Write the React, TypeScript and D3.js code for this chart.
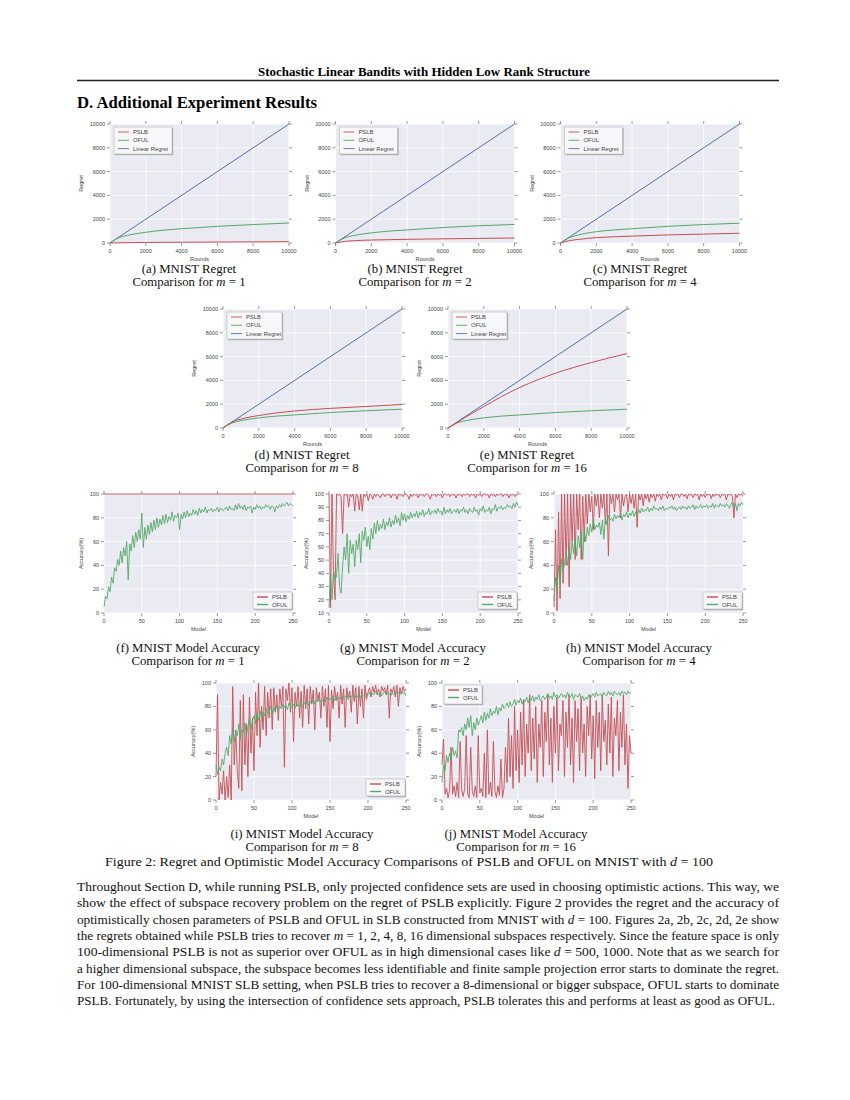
import React from "react";
import * as d3 from "d3";

// ---------- Regret data (rounds vs regret) ----------
const regretRounds = [0, 500, 1000, 2000, 3000, 4000, 6000, 8000, 10000];
const linearRounds = [0, 10000];
const linearRegret = [0, 10000];
const pslbRegretA = [0, 20, 30, 45, 55, 65, 80, 95, 110];
const ofulRegretA = [0, 450, 650, 900, 1080, 1200, 1400, 1550, 1680];
const pslbRegretB = [0, 130, 190, 250, 280, 310, 350, 385, 420];
const ofulRegretB = [0, 420, 620, 850, 1000, 1100, 1300, 1450, 1560];
const pslbRegretC = [0, 200, 300, 450, 520, 580, 680, 750, 820];
const ofulRegretC = [0, 450, 680, 950, 1100, 1200, 1400, 1550, 1660];
const pslbRegretD = [0, 500, 750, 1050, 1270, 1430, 1650, 1810, 1980];
const ofulRegretD = [0, 420, 620, 850, 1000, 1100, 1300, 1450, 1580];
const pslbRegretE = [0, 460, 920, 1800, 2650, 3400, 4600, 5500, 6250];
const ofulRegretE = [0, 420, 620, 850, 1000, 1100, 1300, 1450, 1580];

const regretXTicks = [0, 2000, 4000, 6000, 8000, 10000];
const regretYTicks = [0, 2000, 4000, 6000, 8000, 10000];

// ---------- Accuracy data (model index 0..250 step 2) ----------
const modelIdx = d3.range(0, 251, 2);
const pslbAccFModels = [0, 250];
const pslbAccF = [100, 100];
const ofulAccF = [5, 14, 12, 22, 18, 30, 25, 38, 35, 45, 40,
  52, 42, 55, 48, 60, 28, 58, 52, 65, 55,
  68, 60, 70, 62, 84, 55, 72, 62, 74, 66,
  76, 68, 78, 70, 80, 72, 79, 74, 82, 75,
  83, 76, 81, 78, 85, 77, 82, 80, 84, 70,
  83, 79, 85, 80, 86, 81, 84, 82, 87, 83,
  86, 82, 88, 84, 87, 85, 89, 84, 87, 86,
  88, 85, 87, 86, 89, 85, 88, 87, 86, 88,
  89, 86, 90, 87, 88, 86, 91, 87, 92, 88,
  90, 87, 91, 86, 89, 88, 90, 84, 89, 87,
  91, 88, 90, 87, 89, 88, 91, 89, 90, 87,
  90, 89, 85, 90, 88, 91, 89, 92, 90, 91,
  93, 90, 92, 91, 90];
const pslbAccG = [100, 14, 100, 40, 20, 100, 99, 100, 98, 70, 100,
  99, 100, 90, 100, 98, 100, 87, 100, 99, 88,
  100, 87, 100, 98, 100, 95, 100, 99, 96, 100,
  98, 100, 99, 97, 100, 100, 98, 100, 99, 100,
  97, 100, 99, 100, 96, 100, 99, 100, 98, 100,
  100, 99, 96, 100, 98, 100, 99, 100, 97, 100,
  99, 100, 98, 100, 100, 99, 96, 100, 99, 100,
  98, 100, 99, 100, 97, 100, 100, 99, 100, 98,
  100, 99, 100, 97, 100, 99, 100, 98, 100, 99,
  100, 100, 98, 100, 99, 100, 97, 100, 99, 100,
  98, 100, 100, 99, 100, 97, 100, 99, 100, 98,
  100, 99, 100, 100, 98, 100, 99, 100, 97, 100,
  99, 100, 98, 100, 99];
const ofulAccG = [14, 40, 20, 42, 35, 38, 55, 30, 25, 45, 60,
  50, 70, 40, 65, 55, 62, 45, 65, 58, 70,
  48, 72, 65, 75, 60, 68, 58, 74, 66, 78,
  70, 80, 72, 77, 74, 81, 73, 79, 76, 82,
  75, 80, 77, 84, 78, 82, 76, 86, 80, 85,
  79, 84, 81, 86, 82, 85, 83, 87, 82, 86,
  84, 88, 83, 86, 85, 89, 84, 87, 86, 88,
  85, 89, 86, 87, 84, 90, 85, 88, 86, 89,
  85, 87, 88, 86, 89, 85, 88, 87, 90, 86,
  88, 85, 89, 87, 86, 90, 87, 88, 84, 89,
  87, 91, 86, 88, 87, 90, 85, 89, 88, 92,
  87, 90, 89, 91, 88, 90, 89, 92, 90, 91,
  89, 93, 90, 94, 91];
const pslbAccH = [5, 70, 2, 85, 12, 100, 25, 100, 40, 100, 22,
  100, 60, 100, 45, 100, 70, 100, 45, 98, 60,
  100, 75, 100, 85, 98, 70, 100, 90, 100, 80,
  100, 88, 100, 75, 100, 48, 100, 92, 100, 85,
  100, 95, 100, 80, 100, 90, 98, 100, 85, 100,
  92, 100, 88, 100, 72, 100, 95, 100, 90, 100,
  96, 100, 93, 100, 97, 100, 94, 100, 98, 100,
  95, 100, 99, 100, 96, 100, 98, 100, 95, 100,
  99, 100, 97, 100, 100, 98, 100, 96, 100, 99,
  100, 97, 100, 99, 100, 95, 100, 98, 100, 97,
  100, 99, 100, 96, 100, 98, 100, 99, 100, 97,
  100, 99, 100, 95, 100, 99, 100, 98, 80, 100,
  97, 100, 99, 100, 98];
const ofulAccH = [10, 30, 20, 40, 25, 45, 35, 42, 50, 40, 55,
  45, 60, 50, 62, 48, 65, 55, 68, 45, 70,
  60, 72, 65, 75, 68, 78, 70, 74, 72, 76,
  66, 78, 62, 80, 74, 82, 78, 80, 77, 83,
  79, 82, 80, 84, 78, 83, 81, 85, 80, 84,
  82, 86, 81, 85, 83, 87, 84, 88, 85, 87,
  86, 89, 85, 88, 86, 90, 87, 88, 86, 89,
  87, 90, 86, 88, 87, 89, 88, 90, 87, 89,
  86, 88, 89, 87, 90, 88, 89, 87, 90, 88,
  89, 91, 87, 90, 88, 89, 91, 88, 90, 89,
  91, 88, 90, 89, 92, 88, 91, 90, 89, 92,
  90, 91, 89, 92, 90, 88, 91, 93, 89, 92,
  86, 92, 90, 93, 91];
const pslbAccI = [20, 90, 0, 15, 5, 25, 0, 20, 2, 30, 0,
  97, 30, 60, 25, 10, 85, 8, 90, 30, 65,
  20, 88, 40, 70, 25, 92, 55, 100, 45, 80,
  60, 97, 55, 92, 70, 95, 60, 96, 75, 90,
  68, 95, 80, 97, 28, 95, 85, 100, 75, 96,
  50, 92, 80, 97, 70, 93, 62, 98, 78, 95,
  65, 97, 82, 94, 60, 96, 85, 92, 70, 97,
  80, 95, 62, 98, 50, 94, 78, 97, 85, 92,
  70, 98, 82, 95, 62, 96, 88, 93, 75, 98,
  84, 96, 65, 97, 80, 95, 70, 98, 86, 92,
  96, 88, 97, 92, 98, 90, 95, 88, 97, 93,
  96, 90, 98, 70, 95, 92, 97, 88, 98, 80,
  96, 91, 97, 93, 95];
const ofulAccI = [30, 22, 28, 25, 35, 30, 40, 45, 38, 55, 48,
  62, 50, 58, 55, 65, 52, 60, 58, 66, 55,
  63, 70, 60, 68, 72, 65, 74, 68, 76, 70,
  75, 72, 78, 74, 76, 80, 73, 79, 76, 81,
  77, 80, 78, 82, 79, 81, 77, 83, 80, 79,
  82, 78, 83, 80, 81, 84, 79, 83, 82, 85,
  81, 84, 83, 86, 82, 85, 84, 87, 83, 85,
  86, 84, 88, 85, 87, 86, 89, 85, 87, 86,
  88, 86, 89, 87, 88, 90, 86, 89, 88, 90,
  87, 89, 88, 91, 87, 90, 89, 88, 91, 90,
  92, 89, 91, 90, 93, 91, 90, 92, 89, 91,
  93, 90, 92, 91, 89, 92, 90, 93, 91, 92,
  90, 93, 91, 92, 89];
const pslbAccJ = [30, 52, 5, 10, 2, 8, 45, 5, 12, 3, 15,
  2, 50, 8, 3, 10, 55, 5, 2, 45, 8,
  3, 12, 2, 55, 6, 10, 3, 40, 2, 60,
  5, 15, 3, 50, 8, 2, 12, 4, 35, 2,
  10, 45, 15, 70, 20, 55, 10, 80, 25, 60,
  15, 75, 30, 85, 20, 65, 40, 90, 25, 70,
  35, 80, 15, 65, 45, 85, 20, 75, 50, 90,
  30, 70, 15, 80, 40, 88, 25, 65, 55, 85,
  20, 75, 45, 90, 30, 70, 15, 85, 50, 78,
  25, 88, 40, 65, 20, 80, 55, 90, 35, 72,
  18, 85, 45, 75, 25, 90, 50, 68, 30, 82,
  40, 88, 20, 70, 55, 85, 25, 75, 45, 90,
  30, 65, 10, 55, 40];
const ofulAccJ = [15, 30, 25, 38, 32, 40, 35, 45, 38, 42, 36,
  60, 58, 62, 55, 65, 60, 70, 62, 72, 55,
  66, 60, 70, 64, 68, 72, 66, 75, 68, 74,
  70, 78, 72, 76, 74, 80, 73, 79, 76, 82,
  78, 80, 83, 79, 84, 80, 82, 86, 81, 85,
  83, 87, 82, 86, 84, 88, 83, 87, 85, 89,
  84, 88, 86, 90, 85, 87, 89, 86, 88, 91,
  87, 89, 86, 92, 88, 90, 87, 89, 91, 88,
  90, 87, 92, 89, 88, 91, 86, 90, 89, 88,
  91, 87, 89, 85, 88, 86, 90, 87, 89, 91,
  88, 92, 89, 90, 91, 88, 92, 90, 89, 93,
  90, 92, 89, 93, 91, 90, 92, 89, 93, 91,
  92, 90, 93, 91, 92];

const accXTicks = [0, 50, 100, 150, 200, 250];
const accYTicks = [0, 20, 40, 60, 80, 100];
const accYTicksG = [10, 20, 30, 40, 50, 60, 70, 80, 90, 100];

const RED = "#C44E52";
const GREEN = "#55A868";
const BLUE = "#4C72B0";
const SANS = "'Liberation Sans', Arial, sans-serif";
const SERIF = "'Liberation Serif', 'Times New Roman', serif";

type Series = { xs: number[]; ys: number[]; color: string; label: string };

function Panel(props: {
  left: number; top: number; w: number; h: number;
  xMax: number; yMin: number; yMax: number;
  xTicks: number[]; yTicks: number[];
  xLabel: string; yLabel: string; yLabelOff: number;
  series: Series[]; legendItems: Series[];
  legend: { x: number; y: number; w: number; h: number };
  smooth: boolean; lw: number; legendLw: number; rowGap: number;
}) {
  const { left, top, w, h } = props;
  const x = d3.scaleLinear().domain([0, props.xMax]).range([left, left + w]);
  const y = d3.scaleLinear().domain([props.yMin, props.yMax]).range([top + h, top]);
  const tl = 3;
  const tc = "#555";
  const lg = props.legend;
  const fs = 5.5;
  return (
    <g>
      <rect x={left} y={top} width={w} height={h} fill="#EAEAF2" />
      {props.xTicks.map((t) => (
        <line key={"gx" + t} x1={x(t)} x2={x(t)} y1={top} y2={top + h} stroke="#fff" strokeWidth={0.8} />
      ))}
      {props.yTicks.map((t) => (
        <line key={"gy" + t} x1={left} x2={left + w} y1={y(t)} y2={y(t)} stroke="#fff" strokeWidth={0.8} />
      ))}
      {props.series.map((s, i) => {
        const pts = s.xs.map((xv, k) => [xv, s.ys[k]] as [number, number]);
        const gen = d3.line<[number, number]>().x((d) => x(d[0])).y((d) => y(d[1]));
        if (props.smooth) gen.curve(d3.curveMonotoneX);
        return <path key={i} d={gen(pts) || ""} fill="none" stroke={s.color} strokeWidth={props.lw} strokeLinejoin="round" />;
      })}
      {props.yTicks.map((t) => (
        <g key={"ty" + t}>
          <line x1={left - tl} x2={left} y1={y(t)} y2={y(t)} stroke={tc} strokeWidth={0.6} />
          <line x1={left + w} x2={left + w + tl} y1={y(t)} y2={y(t)} stroke={tc} strokeWidth={0.6} />
          <text x={left - 5} y={y(t) + 1.9} fontSize={fs} fill="#444" textAnchor="end" fontFamily={SANS}>{t}</text>
        </g>
      ))}
      {props.xTicks.map((t) => (
        <g key={"tx" + t}>
          <line x1={x(t)} x2={x(t)} y1={top - tl} y2={top} stroke={tc} strokeWidth={0.6} />
          <line x1={x(t)} x2={x(t)} y1={top + h} y2={top + h + tl} stroke={tc} strokeWidth={0.6} />
          <text x={x(t)} y={top + h + 10} fontSize={fs} fill="#444" textAnchor="middle" fontFamily={SANS}>{t}</text>
        </g>
      ))}
      <text x={left + w / 2} y={top + h + 18} fontSize={fs} fill="#444" textAnchor="middle" fontFamily={SANS}>{props.xLabel}</text>
      <text transform={`translate(${left - props.yLabelOff},${top + h / 2}) rotate(-90)`} fontSize={fs} fill="#444" textAnchor="middle" fontFamily={SANS}>{props.yLabel}</text>
      <rect x={lg.x + 1.2} y={lg.y + 1.2} width={lg.w} height={lg.h} fill="#888" opacity={0.6} />
      <rect x={lg.x} y={lg.y} width={lg.w} height={lg.h} fill="#F7F7FA" stroke="#aaa" strokeWidth={0.5} />
      {props.legendItems.map((s, i) => {
        const rowY = lg.y + 5 + i * props.rowGap;
        return (
          <g key={"lg" + i}>
            <line x1={lg.x + 4} x2={lg.x + 15} y1={rowY} y2={rowY} stroke={s.color} strokeWidth={props.legendLw} />
            <text x={lg.x + 19} y={rowY + 2} fontSize={5.8} fill="#444" fontFamily={SANS}>{s.label}</text>
          </g>
        );
      })}
    </g>
  );
}

function Caption({ cx, y, top, m }: { cx: number; y: number; top: string; m: string }) {
  return (
    <g fontFamily={SERIF} fontSize={12.8} fill="#111" textAnchor="middle">
      <text x={cx} y={y}>{top}</text>
      <text x={cx} y={y + 13}>
        Comparison for <tspan fontStyle="italic">m</tspan> = {m}
      </text>
    </g>
  );
}

const paraLines: React.ReactNode[] = [
  <>Throughout Section D, while running PSLB, only projected confidence sets are used in choosing optimistic actions.  This way, we</>,
  <>show the effect of subspace recovery problem on the regret of PSLB explicitly.  Figure 2 provides the regret and the accuracy of</>,
  <>optimistically chosen parameters of PSLB and OFUL in SLB constructed from MNIST with <tspan fontStyle="italic">d</tspan> = 100. Figures 2a, 2b, 2c, 2d, 2e show</>,
  <>the regrets obtained while PSLB tries to recover <tspan fontStyle="italic">m</tspan> = 1, 2, 4, 8, 16 dimensional subspaces respectively. Since the feature space is only</>,
  <>100-dimensional PSLB is not as superior over OFUL as in high dimensional cases like <tspan fontStyle="italic">d</tspan> = 500, 1000. Note that as we search for</>,
  <>a higher dimensional subspace, the subspace becomes less identifiable and finite sample projection error starts to dominate the regret.</>,
  <>For 100-dimensional MNIST SLB setting, when PSLB tries to recover a 8-dimensional or bigger subspace, OFUL starts to dominate</>,
  <>PSLB. Fortunately, by using the intersection of confidence sets approach, PSLB tolerates this and performs at least as good as OFUL.</>,
];

export default function App() {
  const regretPanel = (left: number, top: number, p: number[], o: number[], lgW: number) => (
    <Panel left={left} top={top} w={179} h={119} xMax={10000} yMin={0} yMax={10000}
      xTicks={regretXTicks} yTicks={regretYTicks} xLabel="Rounds" yLabel="Regret" yLabelOff={27}
      series={[
        { xs: linearRounds, ys: linearRegret, color: BLUE, label: "Linear Regret" },
        { xs: regretRounds, ys: o, color: GREEN, label: "OFUL" },
        { xs: regretRounds, ys: p, color: RED, label: "PSLB" },
      ]}
      legendItems={[
        { xs: [], ys: [], color: RED, label: "PSLB" },
        { xs: [], ys: [], color: GREEN, label: "OFUL" },
        { xs: [], ys: [], color: BLUE, label: "Linear Regret" },
      ]}
      legend={{ x: left + 4, y: top + 3, w: lgW, h: 27 }}
      smooth={true} lw={1} legendLw={0.9} rowGap={8.3} />
  );
  const accPanel = (left: number, top: number, w: number, h: number, yMin: number, yT: number[],
    pX: number[], p: number[], o: number[], lgPos: "lr" | "ul") => (
    <Panel left={left} top={top} w={w} h={h} xMax={250} yMin={yMin} yMax={100}
      xTicks={accXTicks} yTicks={yT} xLabel="Model" yLabel="Accuracy(%)" yLabelOff={21}
      series={[
        { xs: pX, ys: p, color: RED, label: "PSLB" },
        { xs: modelIdx, ys: o, color: GREEN, label: "OFUL" },
      ]}
      legendItems={[
        { xs: [], ys: [], color: RED, label: "PSLB" },
        { xs: [], ys: [], color: GREEN, label: "OFUL" },
      ]}
      legend={lgPos === "lr" ? { x: left + w - 40, y: top + h - 21, w: 39, h: 17 } : { x: left + 2, y: top + 2, w: 38, h: 19 }}
      smooth={false} lw={0.9} legendLw={1.4} rowGap={7.5} />
  );
  return (
    <svg width={850} height={1100} style={{ position: "absolute", left: 0, top: 0, background: "#fff" }}>
      <text x={424} y={76} fontFamily={SERIF} fontWeight="bold" fontSize={12} textAnchor="middle" textLength={332} lengthAdjust="spacingAndGlyphs">
        Stochastic Linear Bandits with Hidden Low Rank Structure
      </text>
      <line x1={77} x2={779} y1={80.5} y2={80.5} stroke="#222" strokeWidth={1.5} />
      <text x={77} y={108} fontFamily={SERIF} fontWeight="bold" fontSize={16.5} textLength={240} lengthAdjust="spacingAndGlyphs">
        D. Additional Experiment Results
      </text>

      {regretPanel(110, 124, pslbRegretA, ofulRegretA, 58)}
      {regretPanel(335.5, 124, pslbRegretB, ofulRegretB, 58)}
      {regretPanel(560.5, 124, pslbRegretC, ofulRegretC, 58)}
      {regretPanel(223, 309, pslbRegretD, ofulRegretD, 55)}
      {regretPanel(448, 309, pslbRegretE, ofulRegretE, 55)}

      <Caption cx={189} y={273} top="(a) MNIST Regret" m="1" />
      <Caption cx={415} y={273} top="(b) MNIST Regret" m="2" />
      <Caption cx={640} y={273} top="(c) MNIST Regret" m="4" />
      <Caption cx={302} y={459} top="(d) MNIST Regret" m="8" />
      <Caption cx={527} y={459} top="(e) MNIST Regret" m="16" />

      {accPanel(104, 494, 189, 119, 0, accYTicks, pslbAccFModels, pslbAccF, ofulAccF, "lr")}
      {accPanel(329, 494, 189, 119, 10, accYTicksG, modelIdx, pslbAccG, ofulAccG, "lr")}
      {accPanel(554, 494, 189, 119, 0, accYTicks, modelIdx, pslbAccH, ofulAccH, "lr")}
      {accPanel(216, 683, 190, 117, 0, accYTicks, modelIdx, pslbAccI, ofulAccI, "lr")}
      {accPanel(442, 683, 189, 117, 0, accYTicks, modelIdx, pslbAccJ, ofulAccJ, "ul")}

      <Caption cx={188} y={652} top="(f) MNIST Model Accuracy" m="1" />
      <Caption cx={413} y={652} top="(g) MNIST Model Accuracy" m="2" />
      <Caption cx={639} y={652} top="(h) MNIST Model Accuracy" m="4" />
      <Caption cx={302} y={838} top="(i) MNIST Model Accuracy" m="8" />
      <Caption cx={516} y={838} top="(j) MNIST Model Accuracy" m="16" />

      <text x={409} y={866} fontFamily={SERIF} fontSize={13.2} textAnchor="middle" textLength={608} lengthAdjust="spacingAndGlyphs" fill="#111">
        Figure 2: Regret and Optimistic Model Accuracy Comparisons of PSLB and OFUL on MNIST with <tspan fontStyle="italic">d</tspan> = 100
      </text>
      {paraLines.map((ln, i) => (
        <text key={i} x={77} y={891 + i * 16.3} fontFamily={SERIF} fontSize={13.2} fill="#111"
          textLength={i === 7 ? 698 : 702} lengthAdjust="spacingAndGlyphs">
          {ln}
        </text>
      ))}
    </svg>
  );
}
